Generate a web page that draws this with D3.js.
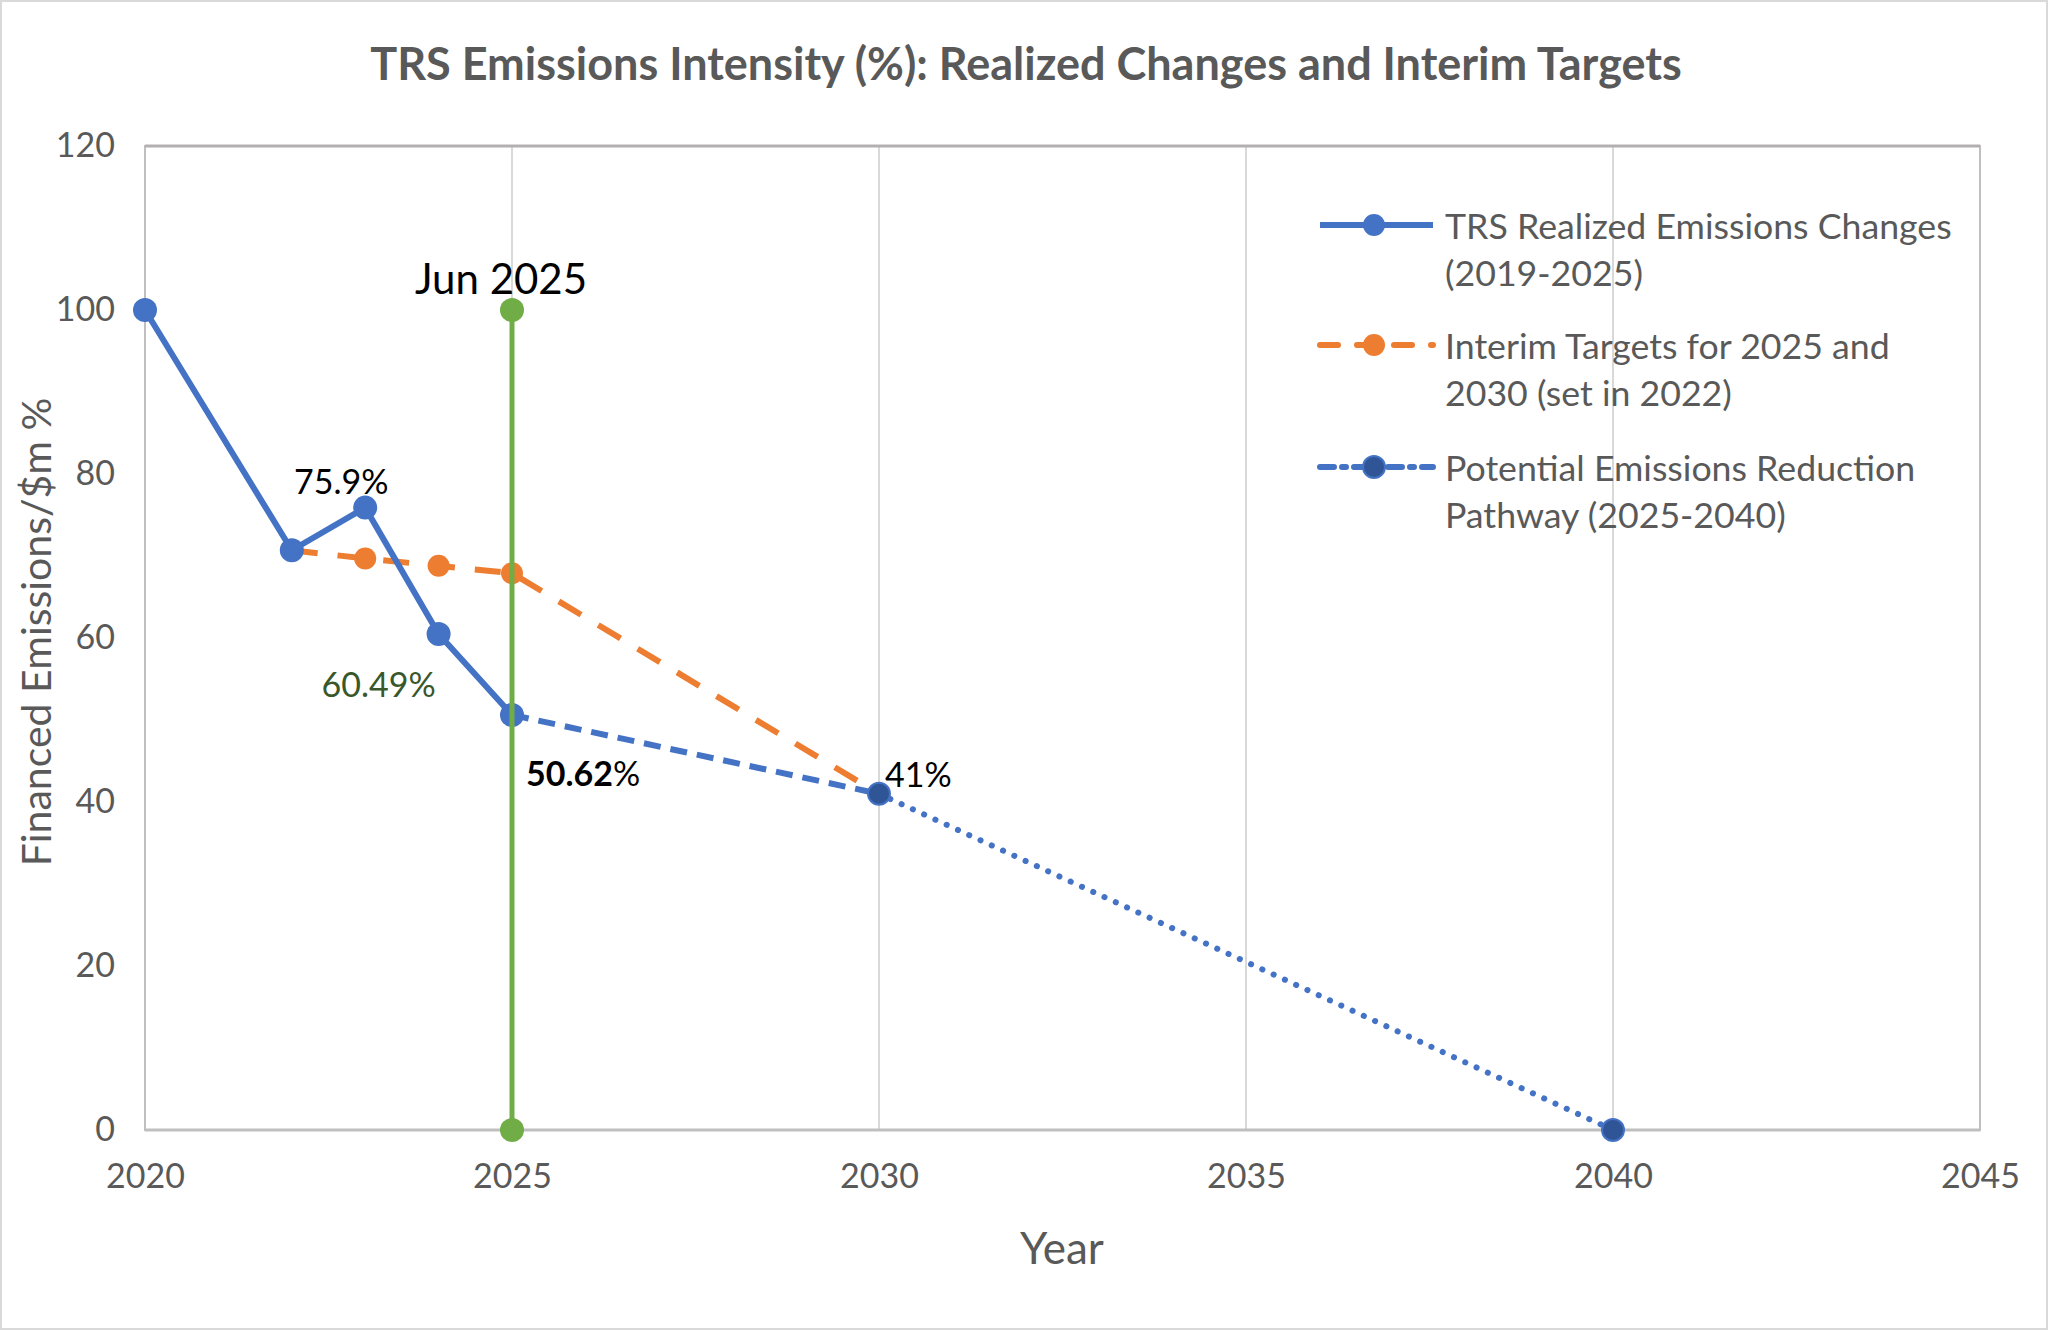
<!DOCTYPE html>
<html>
<head>
<meta charset="utf-8">
<script src="https://cdn.jsdelivr.net/npm/d3@7"></script>
<style>
  html,body{margin:0;padding:0;background:#fff;}
  svg{display:block;font-family:Lato,"Open Sans",sans-serif;}
</style>
</head>
<body>
<div id="chart"></div>
<script>
// data
const realizedYears=[2020,2022,2023,2024,2025];
const realizedValues=[100,70.7,75.9,60.49,50.62];
const targetYears=[2022,2023,2024,2025,2030];
const targetValues=[70.7,69.7,68.8,67.9,41];
const pathwayYears=[2025,2030,2040];
const pathwayValues=[50.62,41,0];
const juneYears=[2025,2025];
const juneValues=[0,100];
const xTicks=[2020,2025,2030,2035,2040,2045];
const yTicks=[0,20,40,60,80,100,120];
const legendLabels=[
  ["TRS Realized Emissions Changes","(2019-2025)"],
  ["Interim Targets for 2025 and","2030 (set in 2022)"],
  ["Potential Emissions Reduction","Pathway (2025-2040)"]
];

const W=2048,H=1330;
const blue="#4472c4",orange="#ed7d31",green="#70ad47",navy="#2f5597",grey="#595959";
const svg=d3.select("#chart").append("svg").attr("width",W).attr("height",H);
svg.append("rect").attr("x",1).attr("y",1).attr("width",W-2).attr("height",H-2)
  .attr("fill","#fff").attr("stroke","#d9d9d9").attr("stroke-width",2);

const x=d3.scaleLinear().domain([2020,2045]).range([145,1980]);
const y=d3.scaleLinear().domain([0,120]).range([1130,146]);

svg.append("text").attr("x",1026).attr("y",80).attr("text-anchor","middle")
  .attr("font-size",45).attr("font-weight",700).attr("fill",grey)
  .text("TRS Emissions Intensity (%): Realized Changes and Interim Targets");

// vertical gridlines
svg.append("g").selectAll("line").data(xTicks.slice(1,-1)).join("line")
  .attr("x1",d=>x(d)).attr("x2",d=>x(d)).attr("y1",y(120)).attr("y2",y(0))
  .attr("stroke","#d9d9d9").attr("stroke-width",2);
// plot frame
svg.append("rect").attr("x",x(2020)).attr("y",y(120)).attr("width",x(2045)-x(2020)).attr("height",y(0)-y(120))
  .attr("fill","none").attr("stroke","#bfbfbf").attr("stroke-width",2);
svg.append("line").attr("x1",x(2020)).attr("x2",x(2045)).attr("y1",y(120)).attr("y2",y(120)).attr("stroke","#b4b0b0").attr("stroke-width",3);
svg.append("line").attr("x1",x(2020)).attr("x2",x(2045)).attr("y1",y(0)).attr("y2",y(0)).attr("stroke","#bfbfbf").attr("stroke-width",3);

// axes
const xAxis=svg.append("g").attr("transform",`translate(0,${y(0)})`)
  .call(d3.axisBottom(x).tickValues(xTicks).tickFormat(d3.format("d")).tickSize(0).tickPadding(34));
const yAxis=svg.append("g").attr("transform",`translate(${x(2020)},0)`)
  .call(d3.axisLeft(y).tickValues(yTicks).tickSize(0).tickPadding(30));
[xAxis,yAxis].forEach(a=>{
  a.select(".domain").remove();
  a.selectAll("text").attr("font-size",34).attr("fill",grey).attr("font-family","Lato,'Open Sans',sans-serif");
});
svg.append("text").attr("x",1062).attr("y",1264).attr("text-anchor","middle")
  .attr("font-size",44).attr("fill",grey).text("Year");
svg.append("text").attr("transform",`translate(51,${(398+866)/2}) rotate(-90)`).attr("text-anchor","middle")
  .attr("font-size",41).attr("fill",grey).text("Financed Emissions/$m %");

const line=d3.line().x(d=>x(d[0])).y(d=>y(d[1]));
const zip=(a,b)=>a.map((v,i)=>[v,b[i]]);
const realized=zip(realizedYears,realizedValues);
const target=zip(targetYears,targetValues);
const pathway=zip(pathwayYears,pathwayValues);
const june=zip(juneYears,juneValues);

// orange targets
svg.append("path").attr("d",line(target)).attr("fill","none").attr("stroke",orange)
  .attr("stroke-width",6).attr("stroke-dasharray","26 20");
svg.append("g").selectAll("circle").data(target.slice(0,-1)).join("circle")
  .attr("cx",d=>x(d[0])).attr("cy",d=>y(d[1])).attr("r",11).attr("fill",orange);
// pathway: dashed to 2030, dotted to 2040
svg.append("path").attr("d",line(pathway.slice(0,2))).attr("fill","none").attr("stroke",blue)
  .attr("stroke-width",6).attr("stroke-dasharray","17 10");
svg.append("path").attr("d",line(pathway.slice(1))).attr("fill","none").attr("stroke",blue)
  .attr("stroke-width",6).attr("stroke-linecap","round").attr("stroke-dasharray","0.1 12.3");
// realized
svg.append("path").attr("d",line(realized)).attr("fill","none").attr("stroke",blue).attr("stroke-width",6);
svg.append("g").selectAll("circle").data(realized).join("circle")
  .attr("cx",d=>x(d[0])).attr("cy",d=>y(d[1])).attr("r",12).attr("fill",blue);
svg.append("g").selectAll("circle").data(pathway.slice(1)).join("circle")
  .attr("cx",d=>x(d[0])).attr("cy",d=>y(d[1])).attr("r",11).attr("fill",navy).attr("stroke",blue).attr("stroke-width",2);
// June 2025 marker line
svg.append("path").attr("d",line(june)).attr("stroke",green).attr("stroke-width",5);
svg.append("g").selectAll("circle").data(june).join("circle")
  .attr("cx",d=>x(d[0])).attr("cy",d=>y(d[1])).attr("r",12).attr("fill",green);

// data labels
const lab=(t,xx,yy,opt={})=>svg.append("text").attr("x",xx).attr("y",yy).attr("text-anchor",opt.anchor||"middle")
  .attr("dominant-baseline","central").attr("font-size",opt.size||34).attr("fill",opt.fill||"#000").text(t);
lab("Jun 2025",x(2025)-11,y(100)-32,{size:42});
lab("75.9%",x(2023)-24,y(75.9)-27);
lab("60.49%",x(2024)-60,y(60.49)+50,{fill:"#38572a"});
const l50=lab("",x(2025)+14,y(50.62)+57,{anchor:"start"});
l50.append("tspan").attr("font-weight",700).text("50.62");
l50.append("tspan").text("%");
lab("41%",x(2030)+6,y(41)-20,{anchor:"start"});

// legend
const lg=svg.append("g");
const lx1=1320,lx2=1433,lmid=1374,ltx=1445,rowY=[225,345,467],lineGap=47;
const styles=[
  {dash:null,fill:blue,stroke:null,cap:"butt"},
  {dash:"18 19",fill:orange,stroke:null,cap:"round"},
  {dash:"14 8 4 8",fill:navy,stroke:blue,cap:"round"}
];
legendLabels.forEach((lbl,i)=>{
  const s=styles[i], cy=rowY[i];
  lg.append("line").attr("x1",lx1).attr("x2",lx2).attr("y1",cy).attr("y2",cy)
    .attr("stroke",i===1?orange:blue).attr("stroke-width",6).attr("stroke-linecap",s.cap)
    .attr("stroke-dasharray",s.dash);
  lg.append("circle").attr("cx",lmid).attr("cy",cy).attr("r",11).attr("fill",s.fill)
    .attr("stroke",s.stroke).attr("stroke-width",2);
  lbl.forEach((t,j)=>lg.append("text").attr("x",ltx).attr("y",cy+j*lineGap).attr("dominant-baseline","central")
    .attr("font-size",35.7).attr("fill",grey).text(t));
});
</script>
</body>
</html>
